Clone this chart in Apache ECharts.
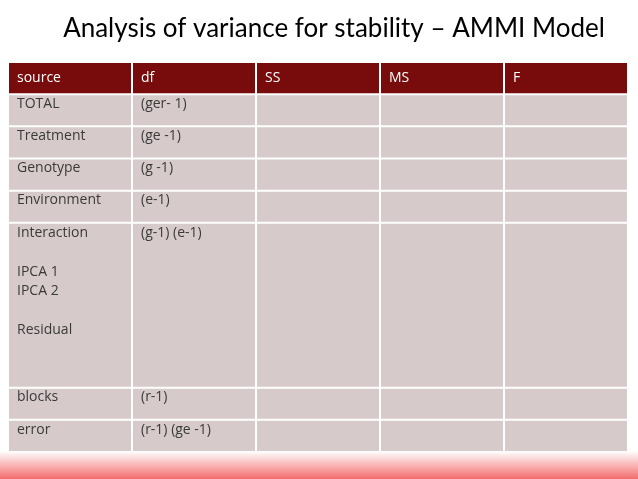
<!DOCTYPE html>
<html><head><meta charset="utf-8">
<script src="https://cdn.jsdelivr.net/npm/echarts@6/dist/echarts.min.js"></script>
<style>html,body{margin:0;padding:0;background:#fff}#c{width:638px;height:479px}</style>
</head><body><div id="c"></div>
<script>
const headers = ['source','df','SS','MS','F'];
const sources = ['TOTAL','Treatment','Genotype','Environment','Interaction\n\nIPCA 1\nIPCA 2\n\nResidual','blocks','error'];
const dfs = ['(ger- 1)','(ge -1)','(g -1)','(e-1)','(g-1) (e-1)','(r-1)','(r-1) (ge -1)'];
const rowUnits = [32,32,32,32,32,164,32,32];
const bounds=[0]; rowUnits.forEach(u=>bounds.push(bounds[bounds.length-1]+u));
const data=[];
for(let r=0;r<rowUnits.length;r++){
  for(let c=0;c<5;c++){
    let t='';
    if(r===0) t=headers[c];
    else if(c===0) t=sources[r-1];
    else if(c===1) t=dfs[r-1];
    data.push([c,r,t]);
  }
}
const chart=echarts.init(document.getElementById('c'));
chart.setOption({
  backgroundColor:'#fff',
  title:{text:'Analysis of variance for stability – AMMI Model',left:329,top:11,textAlign:'center',
    textStyle:{fontFamily:'Lato',fontWeight:'normal',fontSize:26,color:'#000'}},
  grid:{left:8,right:10,top:62,bottom:27},
  xAxis:{type:'value',min:0,max:5,show:false},
  yAxis:{type:'value',min:0,max:bounds[bounds.length-1],inverse:true,show:false},
  graphic:[{type:'rect',left:0,bottom:0,shape:{width:638,height:28},z:-1,
    style:{fill:new echarts.graphic.LinearGradient(0,0,0,1,[{offset:0,color:'#fff'},{offset:1,color:'#f36d6d'}])}}],
  series:[{type:'custom',data:data,renderItem:function(params,api){
    const c=api.value(0), r=api.value(1), t=api.value(2);
    const p0=api.coord([c,bounds[r]]), p1=api.coord([c+1,bounds[r+1]]);
    const x=p0[0]+1, y=p0[1]+1, w=p1[0]-p0[0]-2, h=p1[1]-p0[1]-2;
    const hdr=r===0;
    return {type:'group',children:[
      {type:'rect',shape:{x:x,y:y,width:w,height:h},style:{fill:hdr?'#780c0c':'#d6cbca'}},
      {type:'text',x:x+8,y:y+(hdr?5:-1),style:{text:t,fill:hdr?'#fff':'#3a3a3a',font:'14px "Open Sans"',lineHeight:19.5}}
    ]};
  }}]
});
</script></body></html>
